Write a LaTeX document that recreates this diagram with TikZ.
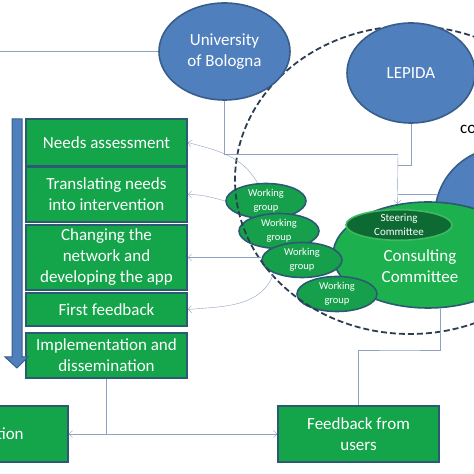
\documentclass[tikz,border=0pt]{standalone}
\usepackage{fontspec}
\setmainfont{Carlito}
\usepackage{tikz}
\usepgflibrary{shapes.geometric}
\usetikzlibrary{arrows.meta}
\definecolor{boxgreen}{HTML}{14A44A}
\definecolor{ccgreen}{HTML}{1DB04E}
\definecolor{groupgreen}{HTML}{17A04B}
\definecolor{steergreen}{HTML}{0E6A33}
\definecolor{steerline}{HTML}{3FB862}
\definecolor{boxline}{HTML}{2B5B73}
\definecolor{ovalblue}{HTML}{4F7FBD}
\definecolor{ovalline}{HTML}{385D8A}
\definecolor{linkgrey}{HTML}{8EA2C0}
\definecolor{ringgrey}{HTML}{2E3C52}

\begin{document}
\begin{tikzpicture}[x=1pt,y=1pt,every node/.style = {inner sep=0pt, align=center, text=white, font=\fontsize{17}{21}\selectfont},
green box/.style = {shape=rectangle, fill=boxgreen, draw=boxline, line width=1.6pt, minimum width=161pt},
blue oval/.style = {shape=ellipse, fill=ovalblue, draw=ovalline, line width=1.6pt},
group oval/.style = {shape=ellipse, fill=groupgreen, draw=boxline, line width=1.6pt, minimum width=80pt, minimum height=35pt, font=\fontsize{10.5}{14}\selectfont},
link/.style = {thin, linkgrey, >={Straight Barb[length=3.5pt,width=7pt]}},
dashed ring/.style = {dashed, dash pattern=on 6pt off 3pt, line width=1.8pt, ringgrey}]
\useasboundingbox (0,0) rectangle (474,474);
\clip (0,0) rectangle (474,474);
\coordinate (edge) at (0,0);
\node[blue oval, minimum width=140pt, minimum height=136pt] (rb) at (505,259) {};
\node[shape=ellipse, fill=ccgreen, draw=boxline, line width=1.6pt, minimum width=190pt, minimum height=106pt] (cc) at (428,219) {};
\node[shape=ellipse, fill=steergreen, draw=steerline, line width=1.6pt, minimum width=106pt, minimum height=30pt, font=\fontsize{11}{14}\selectfont] (st) at (399,249) {Steering\\Committee};
\node (cctext) at (420,207.5) {Consulting\\Committee};
\foreach \j/\x/\y in {1/266/273, 2/279/243, 3/302/214, 4/337/180}
  { \node[group oval] (w;\j) at (\x,\y) {Working\\group}; }
\draw[dashed ring] (410,294) ellipse [x radius=175pt, y radius=154pt];
\node[blue oval, minimum width=131pt, minimum height=97pt] (univ) at (224.5,422.5) {University\\of Bologna};
\node[blue oval, minimum width=128pt, minimum height=100pt] (lep) at (411,401) {LEPIDA};
\node[text=black, anchor=west] (co) at (460,345) {co};
\foreach \j/\y/\h/\t in {1/331.5/47/{Needs assessment}, 2/279.5/55/{Translating needs\\into intervention}, 3/216.5/65/{Changing the\\network and\\developing the app}, 4/164.5/33/{First feedback}, 5/118.5/45/{Implementation and\\dissemination}}
  { \node[green box, minimum height=\h pt] (s;\j) at (106.5,\y) {\t}; }
\node[green box, minimum width=116pt, minimum height=56pt] (eval) at (10,40) {tion};
\node[green box, minimum height=56pt] (fb) at (358.5,40) {Feedback from\\users};
% time arrow
\draw[fill=ovalblue, draw=ovalline, line width=1pt] (12,355) -- (22,355) -- (22,117) -- (28,117) -- (17,106) -- (5,117) -- (12,117) -- cycle;
% links
\coordinate (bus) at (398,320);
\coordinate (lj) at (398,309);
\coordinate (bj) at (398,280);
\coordinate (fbk) at (400,124);
\draw[link] (univ.west) -- (univ.west -| edge);
\draw[link] (univ.south) |- (bus);
\draw[link,->] (bus) -- (cc.121);
\draw[link] (lep.south) |- (lj);
\draw[link] (bj) -- (bj -| rb.162);
\draw[link] (fb.east |- cc.south) |- (fbk) -| (fb.north);
\draw[link] (s;5.south) -- (s;5.south |- fb.west);
\draw[link,<->] (eval.east) -- (fb.west);
\draw[link,->] (w;1.115) to[out=120,in=-15] (s;1.east);
\draw[link,->] (w;1.west) to[out=165,in=0] (s;2.east);
\draw[link,<-] (s;3.east) -- (s;3.east -| w;3.west);
\draw[link,->] (w;3.205) to[out=-110,in=5] (s;4.east);
\end{tikzpicture}
\end{document}
